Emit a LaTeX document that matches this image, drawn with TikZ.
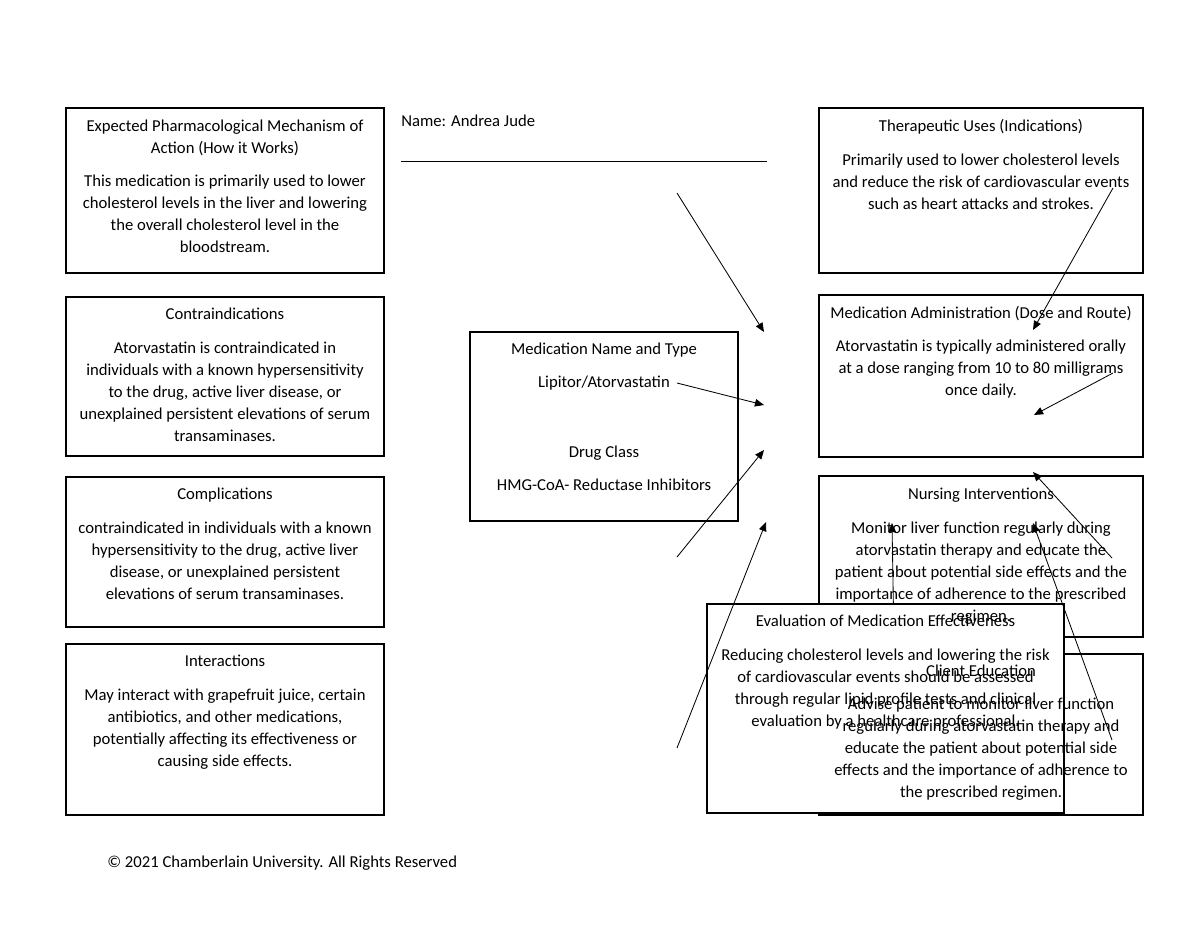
\documentclass[tikz,border=0pt]{standalone}
\usepackage{fontspec}
\setmainfont{Carlito}
\usetikzlibrary{arrows.meta}
\newcommand\pbox[5]{\node[box, minimum width={(#4-#2)*0.66pt}, minimum height={(#5-#3)*0.66pt}] (#1) at ({(#2+#4)/2},{(#3+#5)/2}) {};}
\begin{document}
\begin{tikzpicture}[x=0.66pt,y=-0.66pt,
  box/.style={draw, line width=1.4pt, fill=white, inner sep=0pt, outer sep=0pt},
  txt/.style={anchor=north, inner sep=0pt, align=center, font=\fontsize{11}{14.6}\selectfont},
  conn/.style={line width=0.55pt, -{Triangle[length=6pt, width=5pt]}}]
\useasboundingbox[fill=white] (0,0) rectangle (1200,927);

% boxes
\pbox{mech}{66}{108}{384}{273}
\pbox{contra}{66}{297}{384}{456}
\pbox{compl}{66}{477}{384}{627}
\pbox{inter}{66}{644}{384}{815}
\pbox{med}{470}{332}{738}{521}
\pbox{ther}{819}{108}{1143}{273}
\pbox{admin}{819}{295}{1143}{457}
\pbox{nurse}{819}{476}{1143}{637}
\pbox{client}{819}{654}{1143}{815}

% coordinates for connectors
\coordinate (a1s) at (677,193); \coordinate (a1e) at (764,332);
\coordinate (a2s) at (677,383); \coordinate (a2e) at (764,405);
\coordinate (a3s) at (677,557); \coordinate (a3e) at (764,450);
\coordinate (a4s) at (677,748); \coordinate (a4e) at (766,522);
\coordinate (a5s) at (1113,188); \coordinate (a5e) at (1033,330);
\coordinate (a6s) at (1113,373); \coordinate (a6e) at (1034,415);
\coordinate (a7s) at (1112,558); \coordinate (a7e) at (1033,472);
\coordinate (a8s) at (1112,740); \coordinate (a8e) at (1033,523);
\coordinate (a9s) at (895,700); \coordinate (a9e) at (892,523);

\draw[conn] (a9s) -- (a9e);

\pbox{eval}{707}{604}{1064}{813}

\draw[conn] (a1s) -- (a1e);
\draw[conn] (a2s) -- (a2e);
\draw[conn] (a3s) -- (a3e);
\draw[conn] (a4s) -- (a4e);
\draw[conn] (a5s) -- (a5e);
\draw[conn] (a6s) -- (a6e);
\draw[conn] (a7s) -- (a7e);
\draw[conn] (a8s) -- (a8e);

% name line
\node[txt, anchor=north west] (name) at (401,110.5) {\strut Name: Andrea Jude};
\coordinate (nl1) at (401,161); \coordinate (nl2) at (767,161);
\draw[line width=0.6pt] (nl1) -- (nl2);

% texts
\node[txt] (mechT) at (225,115.5) {\strut Expected Pharmacological Mechanism of\\Action (How it Works)};
\node[txt] (mechB) at (225,170.5) {\strut This medication is primarily used to lower\\cholesterol levels in the liver and lowering\\the overall cholesterol level in the\\bloodstream.};

\node[txt] (contraT) at (225,303.5) {\strut Contraindications};
\node[txt] (contraB) at (225,337.5) {\strut Atorvastatin is contraindicated in\\individuals with a known hypersensitivity\\to the drug, active liver disease, or\\unexplained persistent elevations of serum\\transaminases.};

\node[txt] (complT) at (225,483.5) {\strut Complications};
\node[txt] (complB) at (225,517.5) {\strut contraindicated in individuals with a known\\hypersensitivity to the drug, active liver\\disease, or unexplained persistent\\elevations of serum transaminases.};

\node[txt] (interT) at (225,650.5) {\strut Interactions};
\node[txt] (interB) at (225,684.5) {\strut May interact with grapefruit juice, certain\\antibiotics, and other medications,\\potentially affecting its effectiveness or\\causing side effects.};

\node[txt] (medT) at (604,338.5) {\strut Medication Name and Type};
\node[txt] (medN) at (604,371.5) {\strut Lipitor/Atorvastatin};
\node[txt] (medC) at (604,441.5) {\strut Drug Class};
\node[txt] (medH) at (604,474.5) {\strut HMG-CoA- Reductase Inhibitors};

\node[txt] (therT) at (981,115.5) {\strut Therapeutic Uses (Indications)};
\node[txt] (therB) at (981,149.5) {\strut Primarily used to lower cholesterol levels\\and reduce the risk of cardiovascular events\\such as heart attacks and strokes.};

\node[txt] (adminT) at (981,302.5) {\strut Medication Administration (Dose and Route)};
\node[txt] (adminB) at (981,335.5) {\strut Atorvastatin is typically administered orally\\at a dose ranging from 10 to 80 milligrams\\once daily.};

\node[txt] (nurseT) at (981,483.5) {\strut Nursing Interventions};
\node[txt] (nurseB) at (981,517.5) {\strut Monitor liver function regularly during\\atorvastatin therapy and educate the\\patient about potential side effects and the\\importance of adherence to the prescribed\\regimen.};

\node[txt] (evalT) at (885.5,610.5) {\strut Evaluation of Medication Effectiveness};
\node[txt] (evalB) at (885.5,644.5) {\strut Reducing cholesterol levels and lowering the risk\\of cardiovascular events should be assessed\\through regular lipid profile tests and clinical\\evaluation by a healthcare professional.};

\node[txt] (clientT) at (981,660.5) {\strut Client Education};
\node[txt] (clientB) at (981,693.5) {\strut Advise patient to monitor liver function\\regularly during atorvastatin therapy and\\educate the patient about potential side\\effects and the importance of adherence to\\the prescribed regimen.};

\node[txt, anchor=north west] (copy) at (107,851.5) {\strut © 2021 Chamberlain University. All Rights Reserved};
\end{tikzpicture}
\end{document}
